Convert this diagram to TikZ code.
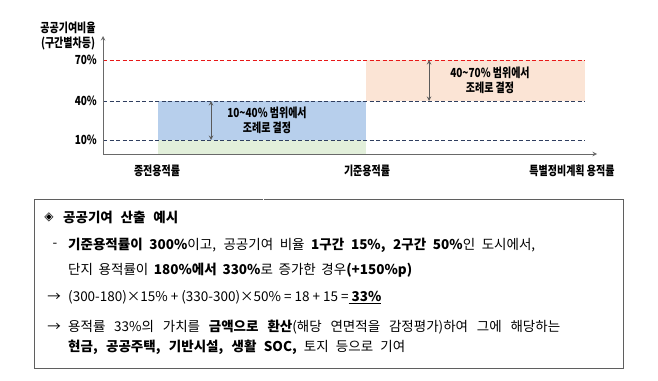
\documentclass[tikz,border=0pt]{standalone}
\usepackage{fontspec}
\setmainfont{Noto Sans CJK KR}
\newfontfamily\chartfont[FakeStretch=0.8]{Noto Sans CJK KR}
\newfontfamily\symfont{DejaVu Sans}

\definecolor{lineblue}{RGB}{47,62,95}
\definecolor{linered}{RGB}{232,24,24}
\definecolor{axisgray}{RGB}{105,105,105}
\definecolor{arrowgray}{RGB}{90,90,90}
\definecolor{boxgray}{RGB}{95,95,95}
\definecolor{bandblue}{RGB}{183,207,236}
\definecolor{bandgreen}{RGB}{226,239,218}
\definecolor{bandpeach}{RGB}{251,228,213}

\begin{document}
\begin{tikzpicture}[x=1pt, y=-1pt, >=stealth,
	chartlbl/.style={font=\chartfont\bfseries\fontsize{12.5}{15}\selectfont, inner sep=0pt},
	boxtxt/.style={font=\fontsize{13.5}{16}\selectfont, inner sep=0pt, anchor=west},
	lvl/.style={dash pattern=on 4pt off 2.5pt, line width=1pt}]
		\useasboundingbox (0,0) rectangle (658,380);
		
		% Bands
		\fill[bandpeach] (366,60) rectangle (585,101);
		\fill[bandblue] (158,101) rectangle (366,140);
		\fill[bandgreen] (158,140) rectangle (366,154);
		
		% Levels
		\draw[lvl, linered] (103,60) -- (585,60);
		\draw[lvl, lineblue] (103,101) -- (585,101);
		\draw[lvl, lineblue] (103,140) -- (585,140);
		
		% Axes
		\coordinate (o) at (103,154);
		\coordinate (ytop) at (103,36);
		\coordinate (xend) at (597,154);
		\draw[->, axisgray, line width=1pt] (o) -- (ytop);
		\draw[->, axisgray, line width=1pt] (o) -- (xend);
		
		\node[chartlbl, align=center] (ytitle) at (68,35.5) {공공기여비율\\(구간별차등)};
		\node[chartlbl, anchor=east] (l70) at (97,60) {70\%};
		\node[chartlbl, anchor=east] (l40) at (97,101) {40\%};
		\node[chartlbl, anchor=east] (l10) at (97,140) {10\%};
		
		\node[chartlbl] (x1) at (157,171) {종전용적률};
		\node[chartlbl] (x2) at (367,171) {기준용적률};
		\node[chartlbl] (x3) at (572,171) {특별정비계획 용적률};
		
		% Ranges
		\coordinate (a40) at (211,101);
		\coordinate (a10) at (211,140);
		\coordinate (b70) at (429,60);
		\coordinate (b40) at (429,101);
		\draw[<->, arrowgray, line width=1pt] (a10) -- (a40);
		\draw[<->, arrowgray, line width=1pt] (b40) -- (b70);
		\node[chartlbl, align=center] (r1) at (267,120.5) {10\textasciitilde40\% 범위에서\\조례로 결정};
		\node[chartlbl, align=center] (r2) at (490,80.5) {40\textasciitilde70\% 범위에서\\조례로 결정};
		
		% Example box
		\draw[boxgray, dash pattern=on 0.5pt off 0.5pt, line width=0.9pt] (34,199) rectangle (623,368);
		\node[font=\symfont\fontsize{12}{14}\selectfont, inner sep=0pt] (dia) at (49,217) {◈};
		\node[boxtxt] (ttl) at (63,217) {\makebox[115pt][s]{\bfseries 공공기여 산출 예시}};
		
		\node[boxtxt, anchor=center] (m1) at (55,245) {-};
		\node[boxtxt] (t1) at (68,245) {\makebox[467pt][s]{\textbf{기준용적률이 300\%}이고, 공공기여 비율 \textbf{1구간 15\%, 2구간 50\%}인 도시에서,}};
		\node[boxtxt] (t2) at (68,270) {\makebox[344pt][s]{단지 용적률이 \textbf{180\%에서 330\%}로 증가한 경우\textbf{(+150\%p)}}};
		
		\node[boxtxt, anchor=center] (m2) at (54,297) {→};
		\node[boxtxt] (t3) at (68,297) {(300-180)×15\% + (330-300)×50\% = 18 + 15 =\underline{\ \textbf{33\%}}};
		
		\node[boxtxt, anchor=center] (m3) at (54,327) {→};
		\node[boxtxt] (t4) at (68,327) {\makebox[492pt][s]{용적률 33\%의 가치를 \textbf{금액으로 환산}(해당 연면적을 감정평가)하여 그에 해당하는}};
		\node[boxtxt] (t5) at (68,347) {\makebox[337pt][s]{\textbf{현금, 공공주택, 기반시설, 생활 SOC,} 토지 등으로 기여}};
	\end{tikzpicture}
\end{document}
